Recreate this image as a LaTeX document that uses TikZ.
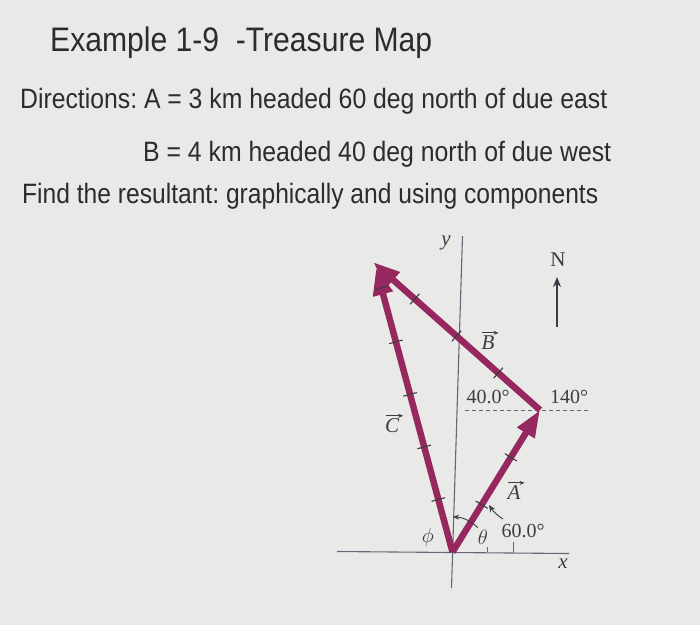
\documentclass[tikz,border=0pt]{standalone}
\usepackage{fontspec}
\setmainfont{Liberation Sans}
\newfontfamily\serifx{Liberation Serif}
\usetikzlibrary{arrows.meta,calc}
\definecolor{bg}{RGB}{233,233,231}
\definecolor{txt}{RGB}{44,44,46}
\definecolor{mag}{RGB}{150,40,95}
\definecolor{axc}{RGB}{100,104,118}
\definecolor{lab}{RGB}{60,60,68}
\frenchspacing
\tikzset{
  txtline/.style={anchor=base west, inner sep=0pt, text=txt, font=\fontsize{28}{30}\selectfont},
  vecline/.style={line width=6.5pt, draw=mag, -{Triangle[length=27pt,width=19pt]}},
  axisline/.style={draw=axc, line width=1.1pt},
  ticknode/.style={sloped, fill=lab, inner sep=0pt, minimum width=1.1pt, minimum height=14pt},
  lbl/.style={text=lab, inner sep=1pt, font=\serifx\fontsize{20}{22}\selectfont},
  ilbl/.style={lbl, font=\serifx\itshape\fontsize{21}{22}\selectfont},
  vecarrow/.style={draw=lab, line width=0.9pt, -{Stealth[length=5pt,width=4pt]}},
  thinarrow/.style={draw=lab, line width=1.1pt, -{Stealth[length=10pt,width=8pt]}},
}
\begin{document}
\begin{tikzpicture}[x=1pt,y=-1pt]
\fill[bg] (0,0) rectangle (700,625);
\useasboundingbox (0,0) rectangle (700,625);

% texts
\node[txtline, font=\fontsize{34}{36}\selectfont] (title) at (50,51.7) {\resizebox{382pt}{\height}{Example 1-9\ \ -Treasure Map}};
\node[txtline] (dir) at (20,108.3) {\resizebox{587pt}{\height}{Directions: A = 3 km headed 60 deg north of due east}};
\node[txtline] (bline) at (143,161.7) {\resizebox{468pt}{\height}{B = 4 km headed 40 deg north of due west}};
\node[txtline] (find) at (22,203.3) {\resizebox{576pt}{\height}{Find the resultant: graphically and using components}};

% key points
\coordinate (O) at (452.5,552);
\coordinate (At) at (540,410);
\coordinate (Bt) at (373,262);
\coordinate (Ct) at (376,268);
\coordinate (xl) at (337,551.5);
\coordinate (xr) at (569,553.5);
\coordinate (yb) at (451.5,588);
\coordinate (yt) at (462.5,236);
\coordinate (dl) at (465,410);
\coordinate (dr) at (588,410);
\coordinate (nb) at (557,327);
\coordinate (nt) at (557,277);
\coordinate (as) at (477.7,527.7);
\coordinate (ae) at (453.1,517);
\coordinate (ps) at (503,519);
\coordinate (pe) at (489,505);

% axes
\draw[axisline] (xl) -- (xr);
\draw[axisline] (yb) -- (yt);
\draw[axisline, line width=0.9pt] (487,546.5) -- (487,552.2);
\draw[axisline, line width=0.9pt] (513,541.5) -- (513,552.4);
\draw[draw=axc, line width=1pt, dash pattern=on 4pt off 3pt] (dl) -- (dr);

% vectors
\draw[vecline] (O) -- (Ct);
\draw[vecline] (O) -- (At);
\draw[vecline] (At) -- (Bt);

% ticks
\path (O) -- (At) node[ticknode,pos=1/3] (ta1) {} node[ticknode,pos=2/3] (ta2) {};
\path (At) -- (Bt) node[ticknode,pos=0.25] (tb1) {} node[ticknode,pos=0.5] (tb2) {} node[ticknode,pos=0.75] (tb3) {};
\path (O) -- (Ct) node[ticknode,pos=0.185] (tc1) {} node[ticknode,pos=0.37] (tc2) {}
  node[ticknode,pos=0.555] (tc3) {} node[ticknode,pos=0.74] (tc4) {} node[ticknode,pos=0.93] (tc5) {};

% angle marks
\draw[draw=lab, line width=0.9pt, -{Stealth[length=6pt,width=5pt]}] (as) .. controls (471.25,521.0) and (462.4,517.2) .. (ae);
\draw[draw=lab, line width=0.9pt, -{Stealth[length=7pt,width=6pt]}] (ps) to[bend left=12] (pe);

% north arrow
\draw[thinarrow] (nb) -- (nt);

% labels
\node[ilbl] (ylab) at (446,243) {y};
\node[lbl, font=\serifx\fontsize{21}{22}\selectfont] (nlab) at (558,260) {N};
\node[ilbl] (blab) at (488,343) {B};
\node[ilbl] (clab) at (392,426) {C};
\node[ilbl] (alab) at (514,493) {A};
\draw[vecarrow] ($(blab.north west)+(2,-2)$) -- ($(blab.north east)+(3,-2)$);
\draw[vecarrow] ($(clab.north west)+(2,-2)$) -- ($(clab.north east)+(3,-2)$);
\draw[vecarrow] ($(alab.north west)+(2,-2)$) -- ($(alab.north east)+(3,-2)$);
\node[lbl] (l40) at (488,397) {40.0°};
\node[lbl] (l140) at (569,397) {140°};
\node[ilbl] (phi) at (428,537) {\ensuremath{\phi}};
\node[ilbl] (theta) at (483,537) {\ensuremath{\theta}};
\node[lbl] (l60) at (523,531) {60.0°};
\node[ilbl] (xlab) at (563,564) {x};
\end{tikzpicture}
\end{document}
